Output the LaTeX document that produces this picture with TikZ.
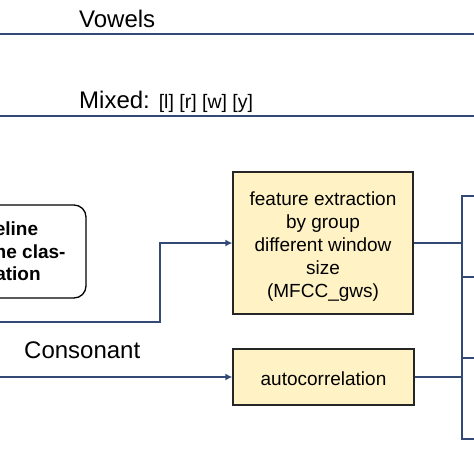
\documentclass[tikz,border=0pt]{standalone}
\usepackage{fontspec}
\setmainfont{Liberation Sans}
\usetikzlibrary{arrows.meta}
\definecolor{linec}{RGB}{52,74,118}
\definecolor{boxfill}{RGB}{255,243,197}
\begin{document}
\begin{tikzpicture}[x=1pt,y=-1pt,
  conn/.style={draw=linec,line width=2pt},
  arr/.style={conn,-{Latex[length=7pt,width=7pt]}},
  ybox/.style={draw=black!85,line width=1.3pt,fill=boxfill,inner sep=0pt},
  ytext/.style={align=center,font=\fontsize{19}{23}\selectfont,inner sep=0pt},
  rbox/.style={draw=black,line width=1.3pt,rounded corners=12pt,fill=white,align=center,font=\fontsize{19}{22.5}\selectfont\bfseries,inner sep=0pt},
  lbl/.style={anchor=base west,inner sep=0pt,font=\fontsize{24}{28}\selectfont}]
\useasboundingbox (0,0) rectangle (474,474);
\clip (0,0) rectangle (474,474);
\fill[white] (0,0) rectangle (474,474);
% labels
\node[lbl] (vow) at (79,27) {Vowels};
\node[lbl] (mix) at (79,108) {Mixed: {\fontsize{19.5}{22}\selectfont [l] [r] [w] [y]}};
\node[lbl] (cons) at (24,358) {Consonant};
% separator lines
\coordinate (v0) at (0,34); \coordinate (v1) at (474,34);
\coordinate (m0) at (0,116); \coordinate (m1) at (474,116);
\draw[conn] (v0) -- (v1);
\draw[conn] (m0) -- (m1);
% boxes
\node[rbox,minimum width=174pt,minimum height=93pt] (base) at (-1,251.5) {Baseline\\phoneme clas-\\sification};
\node[ybox,minimum width=180pt,minimum height=142pt] (fe) at (323,243) {};
\node[ytext] (fetxt) at (323,247) {feature extraction\\by group\\different window\\size\\(MFCC\_gws)};
\node[ybox,minimum width=181pt,minimum height=56pt] (ac) at (323.5,377) {};
\node[ytext] (actxt) at (323.5,379) {autocorrelation};
% connectors in
\coordinate (in1) at (0,322);
\coordinate (bend) at (160,322);
\draw[arr] (in1) -- (bend) |- (fe.west);
\coordinate (in2) at (0,377);
\draw[arr] (in2) -- (ac.west);
% outputs and bracket
\coordinate (bt) at (462,196);
\coordinate (bb) at (462,439);
\draw[conn] (fe.east) -- (fe.east -| bt);
\draw[conn] (ac.east) -- (ac.east -| bt);
\draw[conn] (474,196) -- (bt) -- (bb) -- (474,439);
\coordinate (o2) at (474,277);
\coordinate (o3) at (474,358);
\draw[conn] (o2 -| bt) -- (o2);
\draw[conn] (o3 -| bt) -- (o3);
\end{tikzpicture}
\end{document}
